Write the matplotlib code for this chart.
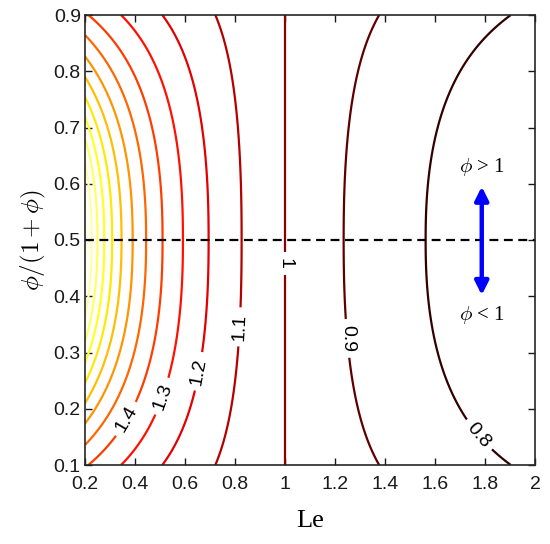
import numpy as np
import matplotlib
matplotlib.use("Agg")
import matplotlib.pyplot as plt

plt.rcParams["font.family"] = ["Liberation Sans", "DejaVu Sans"]
plt.rcParams["mathtext.fontset"] = "cm"

# ==== Values ====
levels = [0.8, 0.9, 1.0, 1.1, 1.2, 1.3, 1.4, 1.5, 1.6, 1.7, 1.8, 1.9, 2.0, 2.1, 2.2]
labelled = [0.8, 0.9, 1.0, 1.1, 1.2, 1.3, 1.4]
label_pos = [(1.75, 0.144), (1.247, 0.325), (1.0, 0.459), (0.84, 0.345),
             (0.673, 0.265), (0.516, 0.221), (0.383, 0.177)]

# where contours meet the left edge (Le = 0.2)
edge_levels = [1.4, 1.5, 1.6, 1.7, 1.8, 1.9, 2.0]
edge_y = [0.109, 0.143, 0.177, 0.210, 0.245, 0.281, 0.319]
# where contours meet the bottom edge (y = 0.1)
bottom_levels = [0.8, 0.9, 1.1, 1.2, 1.3]
bottom_le = [1.867, 1.367, 0.728, 0.513, 0.327]

arrow_le = 1.787
arrow_y = (0.402, 0.595)

# ==== Field: value = Le_eff^-1/2, Le_eff = 1 + w(y) (Le - 1) ====
# on y = 0.5 the contours follow Le^-1/2, w drops off towards the edges
pts_v = np.array(edge_levels + bottom_levels)
pts_le = np.array([0.2] * len(edge_levels) + bottom_le)
pts_y = np.array(edge_y + [0.1] * len(bottom_levels))
w_pts = (1 / pts_v**2 - 1) / (pts_le - 1)
p, logc = np.polyfit(np.log(np.abs(2 * pts_y - 1)), np.log(1 - w_pts), 1)

le = np.linspace(0.2, 2.0, 401)
yy = np.linspace(0.1, 0.9, 401)
LE, Y = np.meshgrid(le, yy)
W = 1 - np.exp(logc) * np.abs(2 * Y - 1) ** p
Z = (1 + W * (LE - 1)) ** -0.5

# ==== Plot ====
fig = plt.figure(figsize=(5.5, 5.44), dpi=100)
ax = fig.add_axes([85 / 550, 79 / 544, 450 / 550, 450 / 544])

cs = ax.contour(LE, Y, Z, levels=levels, cmap="hot", vmin=Z.min(), vmax=Z.max(),
                linewidths=1.6)
texts = ax.clabel(cs, levels=labelled, manual=label_pos, inline=True, fontsize=14,
                  colors="black", fmt=lambda v: f"{v:g}", inline_spacing=6)
for t in texts:
    if t.get_text() in ("1", "0.9"):
        t.set_rotation(-90)

ax.axhline(0.5, color="black", lw=1.6, ls=(0, (4, 2.5)))
ax.annotate("", xy=(arrow_le, arrow_y[1]), xytext=(arrow_le, arrow_y[0]),
            arrowprops=dict(arrowstyle="<|-|>", color="blue", lw=3.2, mutation_scale=20,
                            shrinkA=0, shrinkB=0))
ax.text(arrow_le, 0.630, r"$\phi$ > 1", ha="center", va="center", fontsize=15,
        family="Liberation Serif")
ax.text(arrow_le, 0.367, r"$\phi$ < 1", ha="center", va="center", fontsize=15,
        family="Liberation Serif")

ax.set_xlim(0.2, 2)
ax.set_ylim(0.1, 0.9)
xt = np.round(np.arange(0.2, 2.01, 0.2), 1)
yt = np.round(np.arange(0.1, 0.91, 0.1), 1)
ax.set_xticks(xt)
ax.set_xticklabels([f"{v:g}" for v in xt])
ax.set_yticks(yt)
ax.set_yticklabels([f"{v:g}" for v in yt])
ax.tick_params(direction="in", length=5, width=1, labelsize=14, top=True, right=True,
               colors="0.1")
ax.tick_params(axis="x", pad=8)
ax.tick_params(axis="y", pad=3)
for s in ax.spines.values():
    s.set_linewidth(1.2)
    s.set_color("0.15")

ax.set_xlabel("Le", fontsize=19, family="Liberation Serif", labelpad=12)
ax.set_ylabel(r"$\phi/(1+\phi)$", fontsize=18, labelpad=4)

fig.savefig("out.png", dpi=100)
